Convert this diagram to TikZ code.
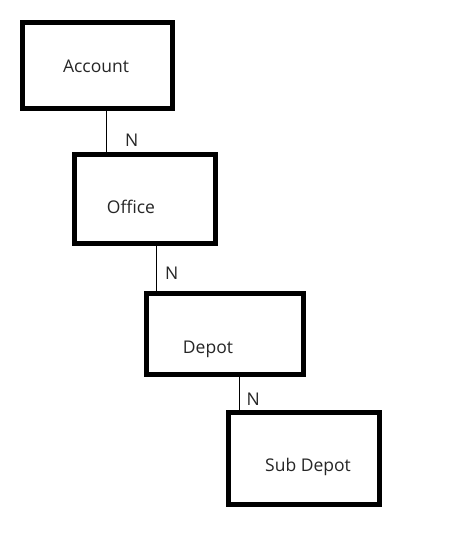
\documentclass[tikz,border=0pt]{standalone}
\usepackage{fontspec}
\setmainfont{Open Sans}
\begin{document}
\begin{tikzpicture}[x=1pt,y=-1pt,
  entity/.style={draw=black,line width=4.5pt,rectangle,inner sep=0pt,fill=white},
  elabel/.style={font=\fontsize{17.5}{20}\selectfont,text=black!85},
  conn/.style={draw=black,line width=1pt},
  card/.style={font=\fontsize{17.5}{20}\selectfont,text=black!85}]
\useasboundingbox[fill=white] (0,0) rectangle (451,539);
\node[entity,minimum width=150pt,minimum height=86pt,
  label={[elabel,xshift=-1.5pt,yshift=-0.5pt]center:Account}] (acc) at (97.5,65.5) {};
\node[entity,minimum width=141pt,minimum height=89pt,
  label={[elabel,xshift=-14pt,yshift=-8pt]center:Office}] (off) at (145,199) {};
\node[entity,minimum width=157pt,minimum height=81pt,
  label={[elabel,xshift=-17pt,yshift=-15.5pt]center:Depot}] (dep) at (225,334) {};
\node[entity,minimum width=151pt,minimum height=92pt,
  label={[elabel,xshift=4pt,yshift=-8.5pt]center:Sub Depot}] (sub) at (304,458.5) {};
\draw[conn] ([xshift=34.5pt]off.north west |- acc.south) -- ([xshift=34.5pt]off.north west)
  node[card,pos=0.7,xshift=25pt] (n1) {N};
\draw[conn] ([xshift=12.5pt]dep.north west |- off.south) -- ([xshift=12.5pt]dep.north west)
  node[card,pos=0.6,xshift=15pt] (n2) {N};
\draw[conn] ([xshift=13pt]sub.north west |- dep.south) -- ([xshift=13pt]sub.north west)
  node[card,pos=0.66,xshift=14pt] (n3) {N};
\end{tikzpicture}
\end{document}
